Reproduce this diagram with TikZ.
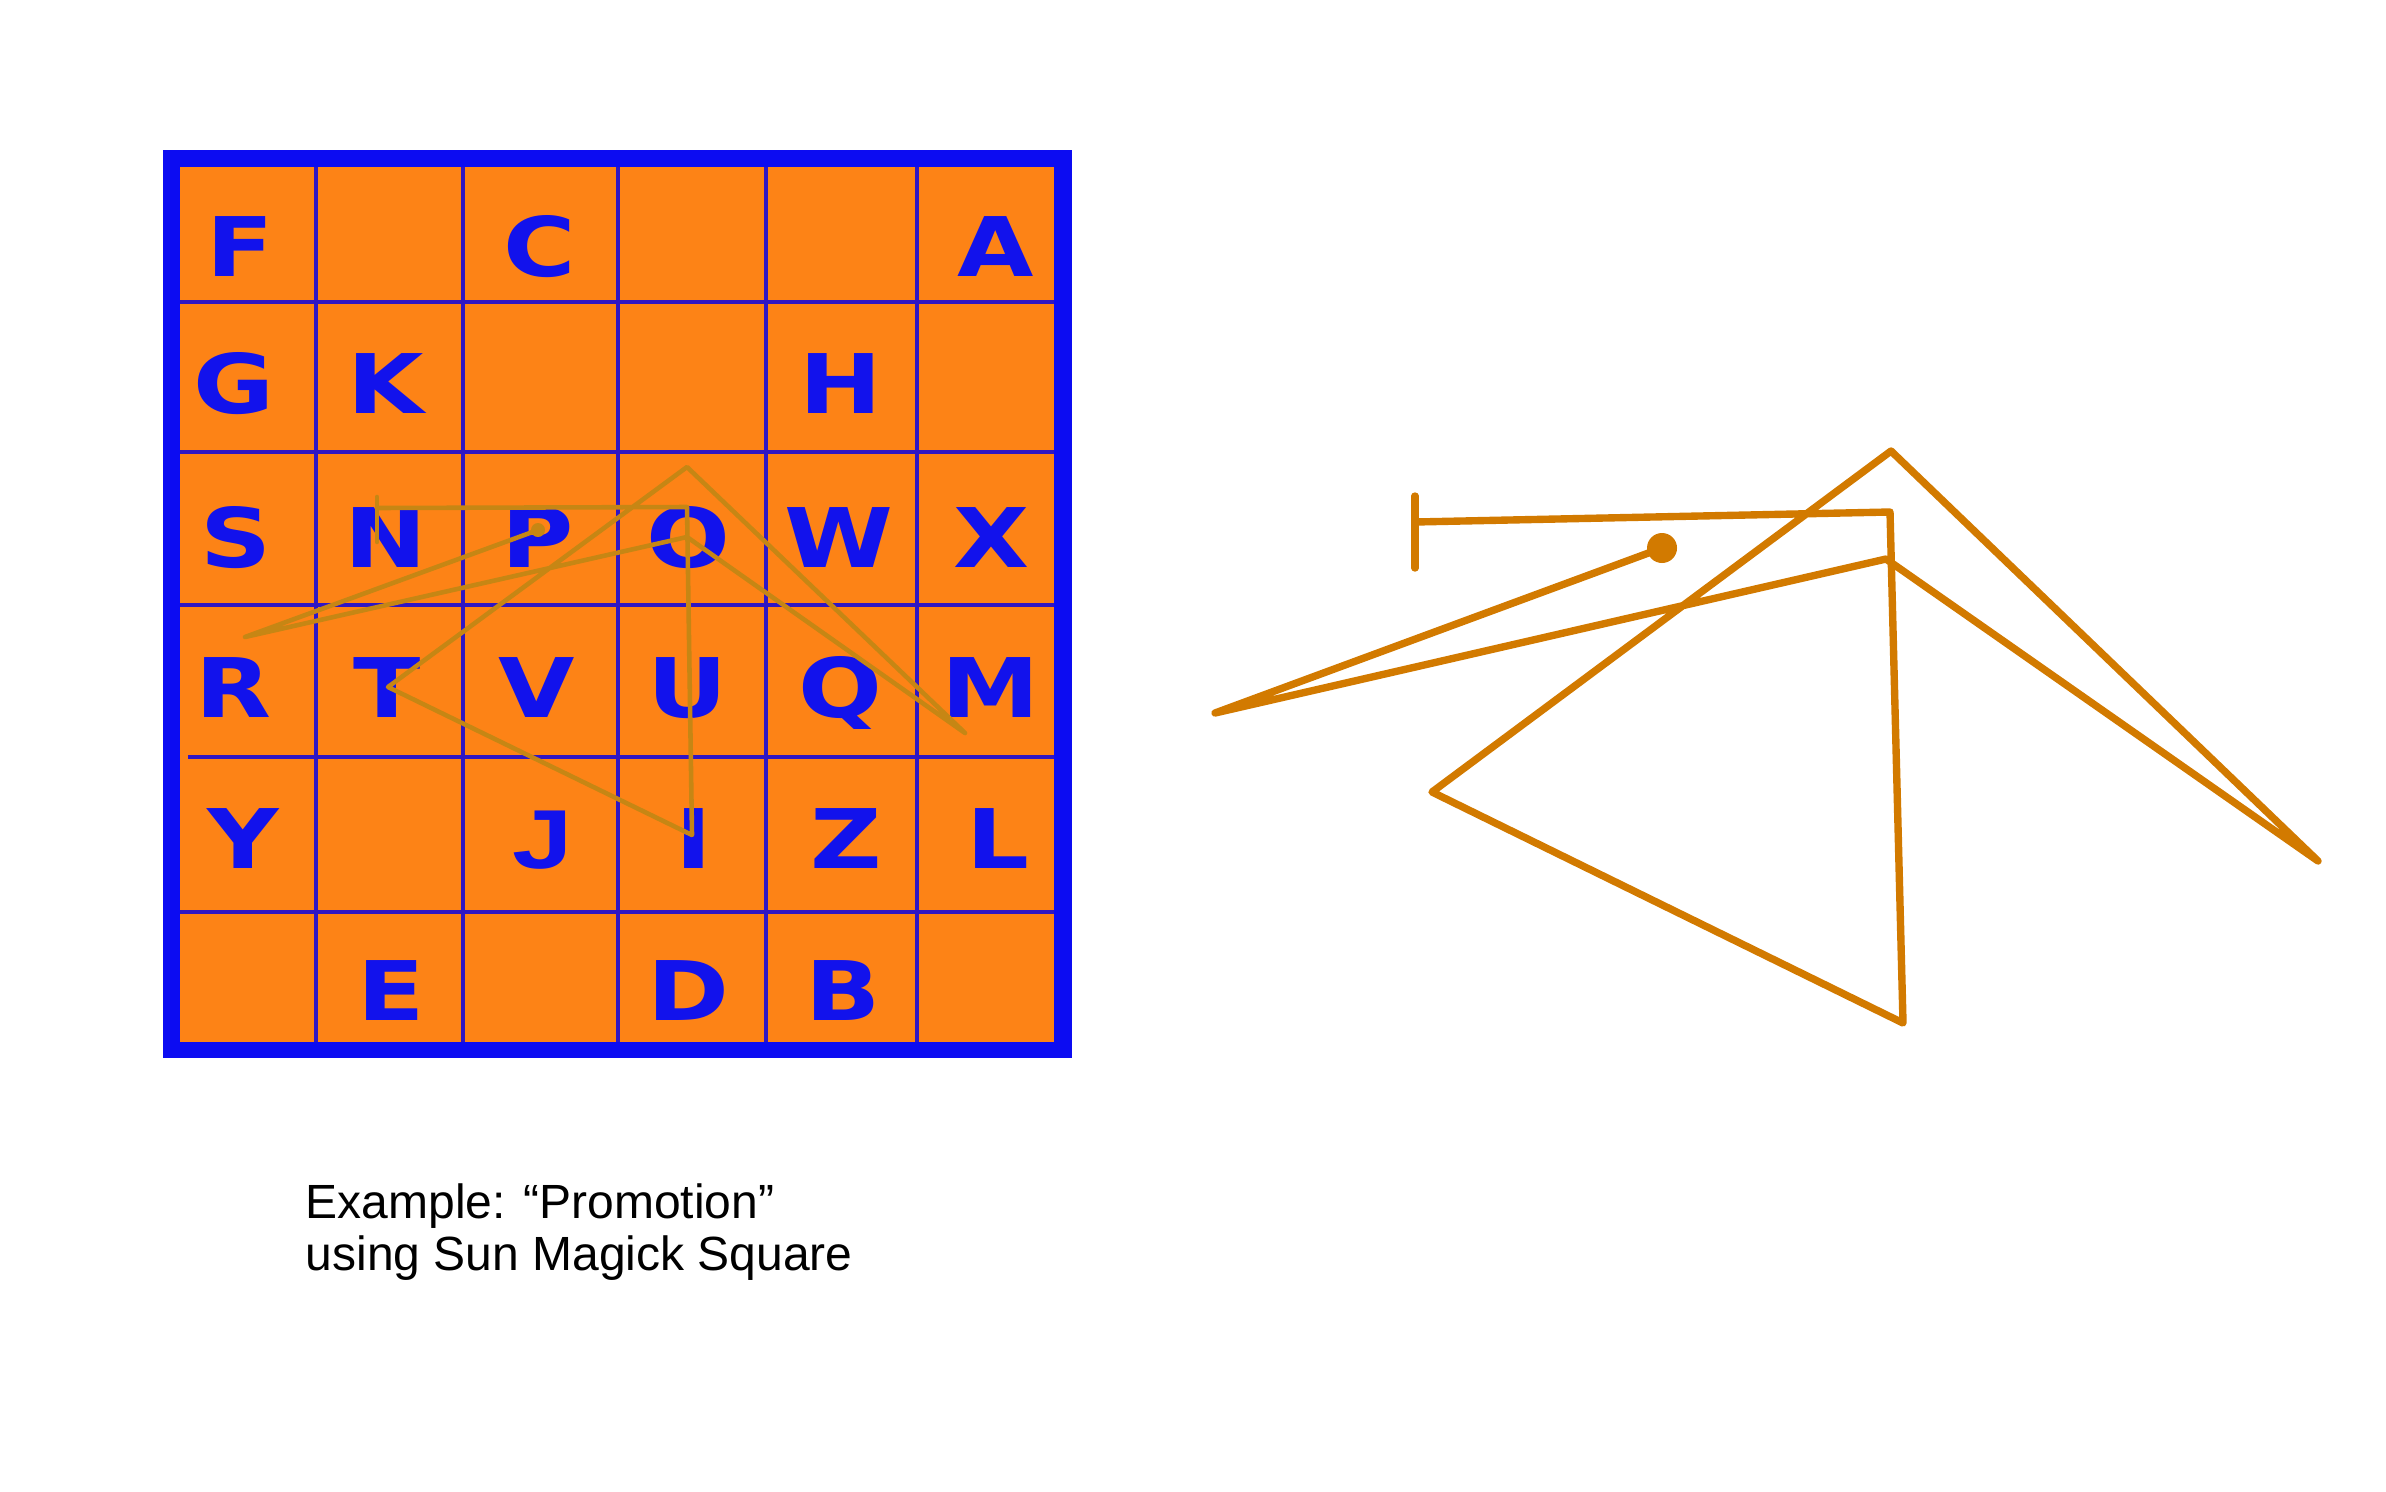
\documentclass[tikz,border=0pt]{standalone}
\usepackage{fontspec}
\setmainfont{Liberation Sans}
\newfontfamily\sqfont{DejaVu Sans}[FakeStretch=1.2]
\usepackage{tikz}
\usepackage{xcolor}
\usetikzlibrary{positioning}

\definecolor{sqblue}{RGB}{12,12,242}
\definecolor{sqline}{RGB}{48,22,196}
\definecolor{sqorange}{RGB}{253,131,22}
\definecolor{sqletter}{RGB}{18,18,236}
\definecolor{sigilgold}{RGB}{198,134,20}
\definecolor{sigilorange}{RGB}{210,122,0}

\tikzset{
  letter/.style={anchor=base, inner sep=0pt, text=sqletter, font=\sqfont\bfseries\fontsize{23.4}{24}\selectfont},
  gridline/.style={draw=sqline, line width=1.1pt},
  sigil/.style={draw=sigilgold, line width=1.3pt, line join=round, line cap=round},
  sketch/.style={draw=sigilorange, line width=2.1pt, line join=round, line cap=round},
  caption/.style={anchor=base west, inner sep=0pt, font=\fontsize{13.66}{15}\selectfont}
}

\begin{document}
\begin{tikzpicture}[x=0.1mm, y=-0.1mm]
\useasboundingbox (0,0) rectangle (2386,1491);
% the square
\fill[sqblue] (163,150) rectangle (1072,1058);
\fill[sqorange] (180,167) rectangle (1054,1042);
\draw[gridline] (316,167) -- (316,1042);
\draw[gridline] (463,167) -- (463,1042);
\draw[gridline] (618,167) -- (618,1042);
\draw[gridline] (766,167) -- (766,1042);
\draw[gridline] (917,167) -- (917,1042);
\draw[gridline] (180,302) -- (1054,302);
\draw[gridline] (180,452) -- (1054,452);
\draw[gridline] (180,605) -- (1054,605);
\draw[gridline] (188,757) -- (1054,757);
\draw[gridline] (180,912) -- (1054,912);

% letters, row by row
\node[letter] (F) at (240,276) {F};
\node[letter] (C) at (540,276) {C};
\node[letter] (A) at (996,276) {A};
\node[letter] (G) at (234,413) {G};
\node[letter] (K) at (386,413) {K};
\node[letter] (H) at (841,413) {H};
\node[letter] (S) at (236,567) {S};
\node[letter] (N) at (386,567) {N};
\node[letter] (P) at (538,567) {P};
\node[letter] (O) at (688,567) {O};
\node[letter] (W) at (839,567) {W};
\node[letter] (X) at (992,567) {X};
\node[letter] (R) at (233,717) {R};
\node[letter] (T) at (387,717) {T};
\node[letter] (V) at (537,717) {V};
\node[letter] (U) at (688,717) {U};
\node[letter] (Q) at (840,717) {Q};
\node[letter] (M) at (991,717) {M};
\node[letter] (Y) at (243,868) {Y};
\node[letter] (J) at (543,868) {\scalebox{1.3}[1]{\fontspec{Liberation Sans}\bfseries\fontsize{23.8}{24}\selectfont J}}; % sits on the line
\node[letter] (I) at (694,868) {I};
\node[letter] (Z) at (846,868) {Z};
\node[letter] (L) at (998,868) {L};
\node[letter] (E) at (391,1020) {E};
\node[letter] (D) at (688,1020) {D};
\node[letter] (B) at (843,1020) {B};

% sigil traced on the square
\coordinate (gP) at (538,530);
\coordinate (gR) at (245,637);
\coordinate (gO) at (687,537);
\coordinate (gM) at (965,733);
\coordinate (gOtop) at (687,467);
\coordinate (gT) at (388,687);
\coordinate (gI) at (692,835);
\coordinate (gOmid) at (687,507);
\coordinate (gN) at (377,508);
\draw[sigil] (gP) -- (gR) -- (gO) -- (gM) -- (gOtop) -- (gT) -- (gI) -- (gOmid) -- (gN);
\draw[sigil] (gN) ++(0,-11) -- ++(0,45);
\fill[sigilgold] (gP) circle (0.7mm);

% the sigil on its own
\coordinate (sP) at (1662,548);
\coordinate (sR) at (1215,713);
\coordinate (sO) at (1886,559);
\coordinate (sM) at (2318,861);
\coordinate (sOtop) at (1891,451);
\coordinate (sT) at (1432,792);
\coordinate (sI) at (1903,1023);
\coordinate (sOmid) at (1890,512);
\coordinate (sN) at (1415,522);
\draw[sketch] (sP) -- (sR) -- (sO) -- (sM) -- (sOtop) -- (sT) -- (sI) -- (sOmid) -- (sN);
\draw[sketch] (sN) ++(0,-26) -- ++(0,72);
\fill[sigilorange] (sP) circle (1.5mm);

% caption
\node[caption] (cap1) at (305,1218) {Example: “Promotion”};
\node[caption] (cap2) at (305,1270) {using Sun Magick Square};
\end{tikzpicture}
\end{document}
